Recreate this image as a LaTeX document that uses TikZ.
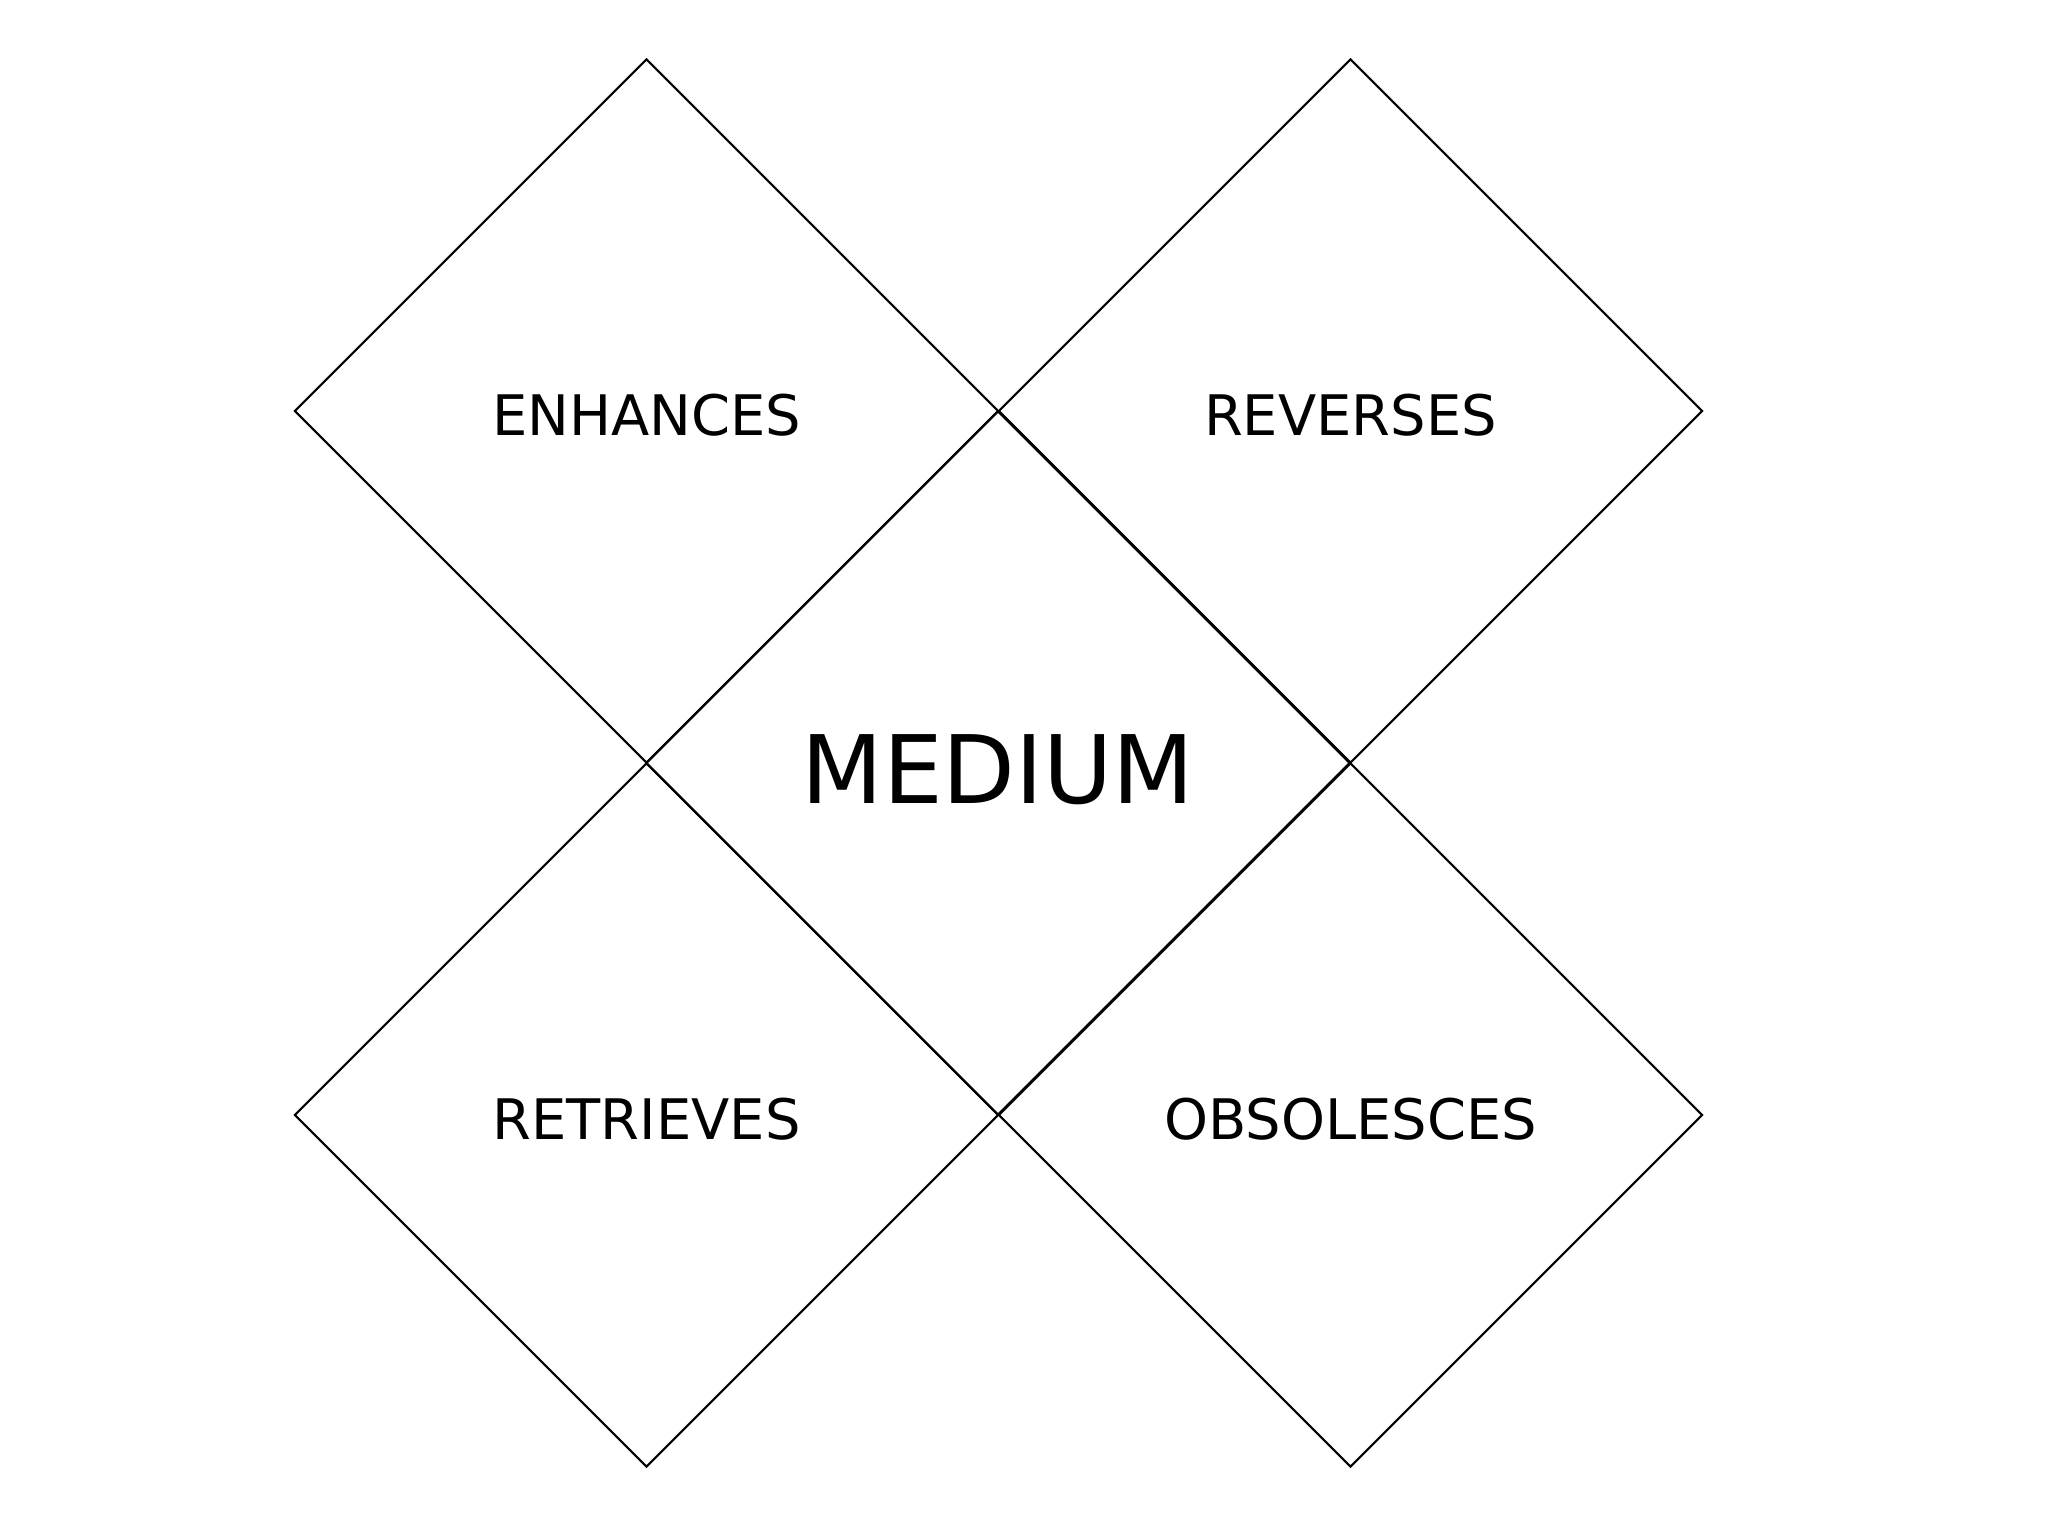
\documentclass[tikz,border=0pt]{standalone}
\usepackage{fontspec}
\setmainfont{DejaVu Sans}
\usetikzlibrary{shapes.geometric}
\tikzstyle{dm}=[diamond,draw=black,line width=.6pt,aspect=1,minimum size=7.04cm,inner sep=0pt]
\tikzstyle{lbl}=[font=\fontsize{15.9}{19}\selectfont,text height=13.8pt,text depth=0pt]

\begin{document}
\begin{tikzpicture}
\useasboundingbox (0,0) rectangle (20.48,15.36);
\node[dm,font=\fontsize{26.9}{32}\selectfont,text height=22.8pt,text depth=0pt] (medium) at (9.98,7.73) {MEDIUM};
\node[dm,lbl] (enhances) at (6.465,11.25) {ENHANCES};
\node[dm,lbl] (reverses) at (13.505,11.25) {REVERSES};
\node[dm,lbl] (retrieves) at (6.465,4.21) {RETRIEVES};
\node[dm,lbl] (obsolesces) at (13.505,4.21) {OBSOLESCES};
\end{tikzpicture}
\end{document}
